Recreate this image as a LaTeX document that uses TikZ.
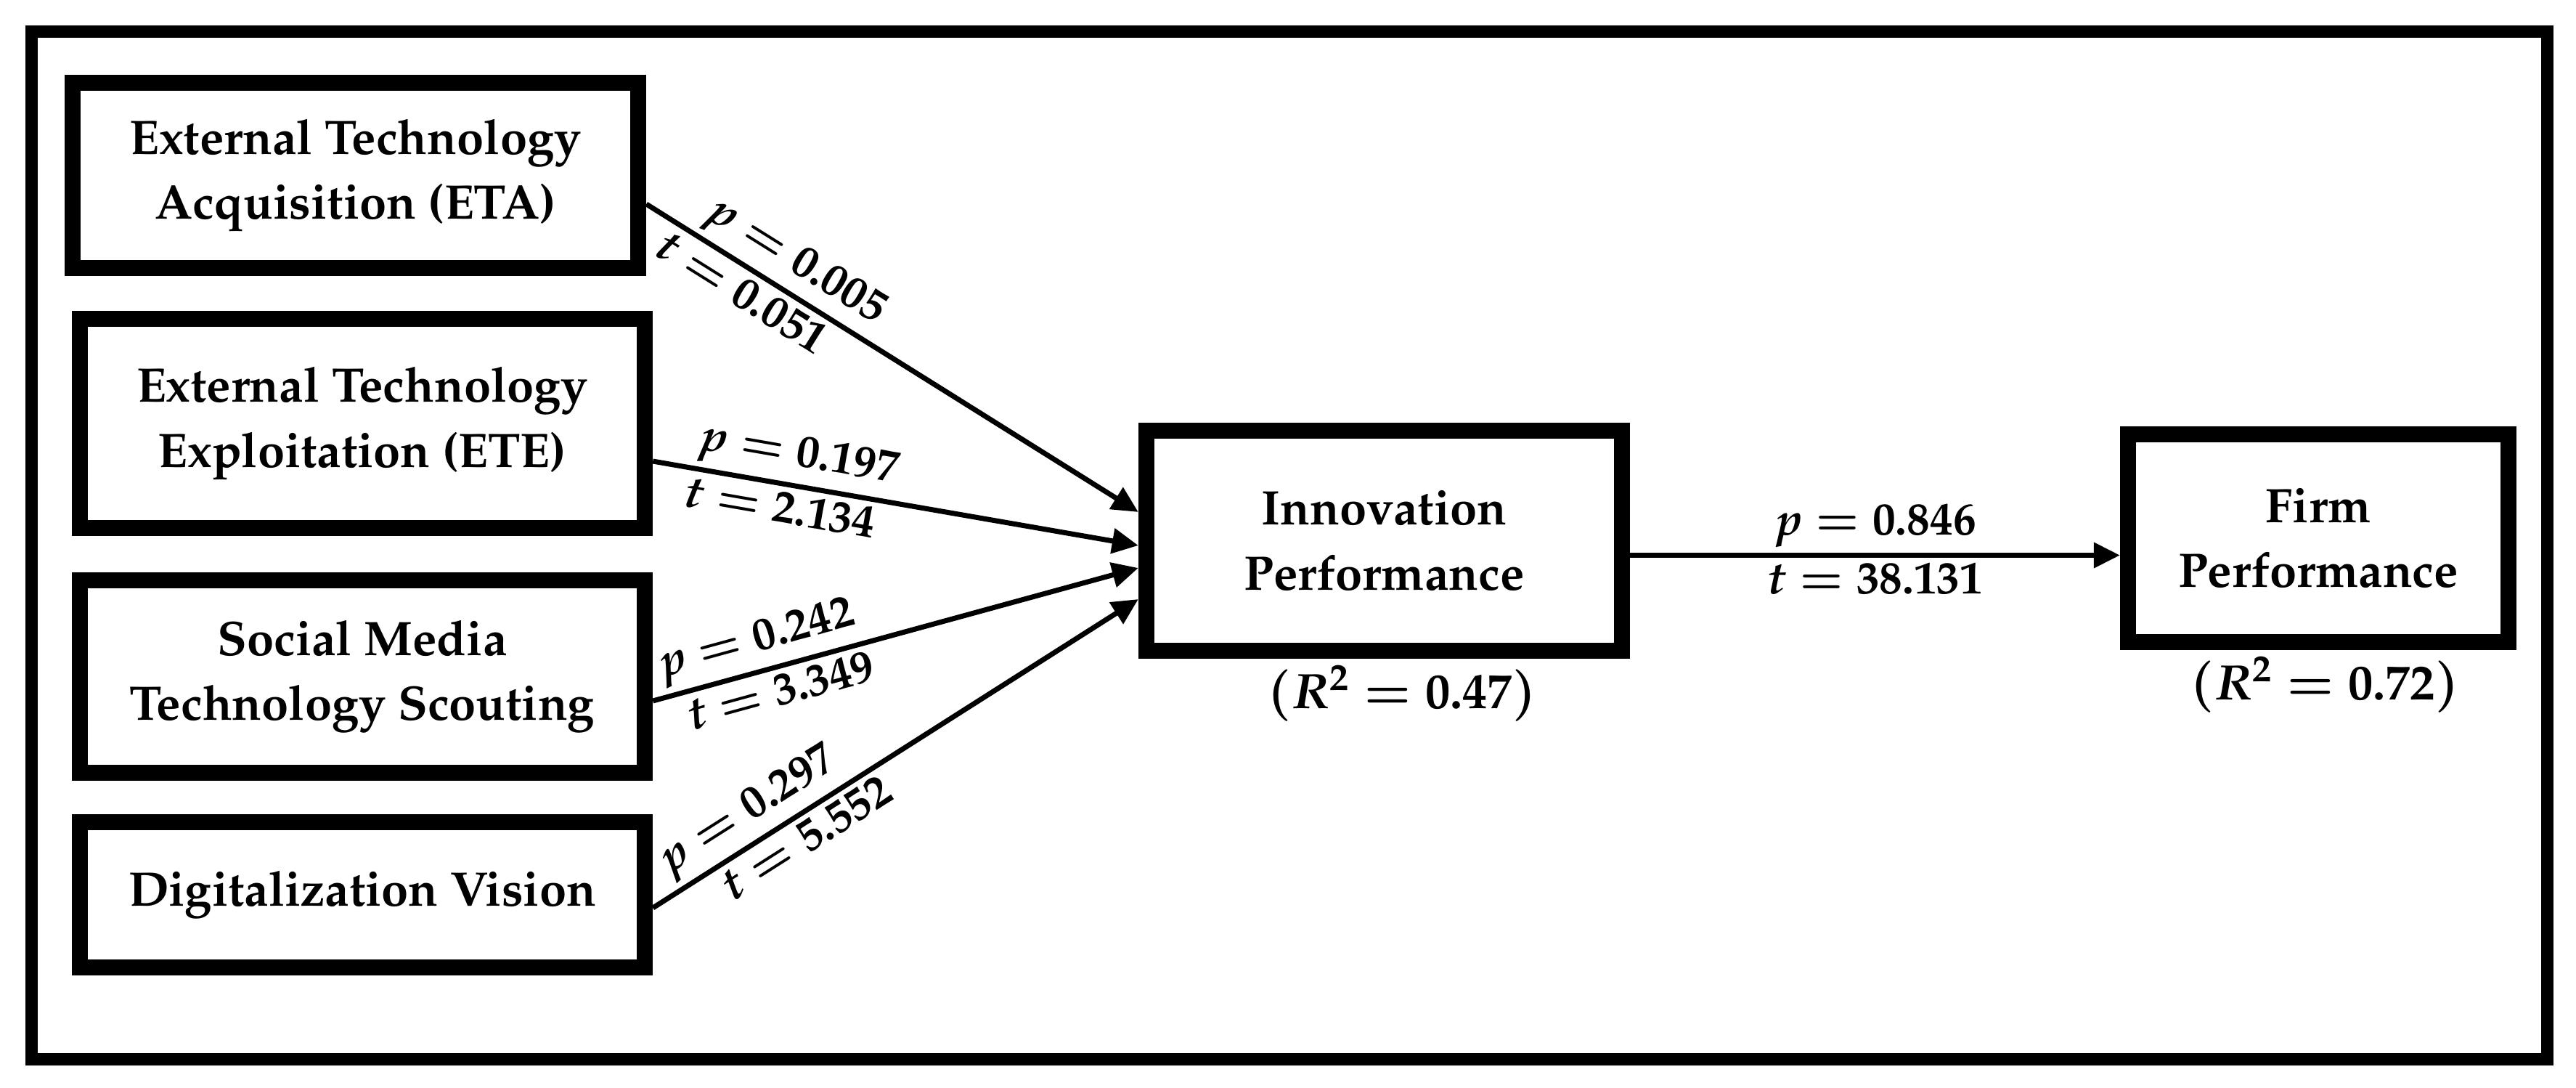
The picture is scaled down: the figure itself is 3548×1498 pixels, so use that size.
\documentclass[tikz,border=0pt]{standalone}
\usepackage[T1]{fontenc}
\usepackage{mathpazo}
\usetikzlibrary{arrows.meta}
\begin{document}
\begin{tikzpicture}[x=0.01cm, y=-0.01cm,
    box/.style={draw, rectangle, line width=0.22cm, fill=white, align=center, inner sep=0pt, font=\fontsize{19}{25.5}\selectfont\bfseries},
    link/.style={-{Triangle[length=0.36cm, width=0.34cm]}, line width=0.07cm},
    coef/.style={font=\fontsize{18}{22}\selectfont\boldmath, inner sep=2pt}]

    \useasboundingbox (0,0) rectangle (3548,1498);
    \draw[line width=0.17cm] (43.5,43.5) rectangle (3508.5,1458.5);

    \node[box, minimum width=7.79cm, minimum height=2.55cm] (eta) at (489.5,241.5) {External Technology\\Acquisition (ETA)};
    \node[box, minimum width=7.78cm, minimum height=2.88cm] (ete) at (499,583) {External Technology\\Exploitation (ETE)};
    \node[box, minimum width=7.78cm, minimum height=2.65cm] (smts) at (499,931.5) {Social Media\\Technology Scouting};
    \node[box, minimum width=7.78cm, minimum height=2.00cm] (dv) at (499,1232) {Digitalization Vision};
    \node[box, minimum width=6.55cm, minimum height=3.03cm] (ip) at (1906.5,744.5) {Innovation\\Performance};
    \node[box, minimum width=5.24cm, minimum height=2.86cm] (fp) at (3193,741) {Firm\\Performance};

    \node[coef, font=\fontsize{19.5}{22}\selectfont\boldmath] (ipr) at (1931,955) {$(R^2 = 0.47)$};
    \node[coef, font=\fontsize{19.5}{22}\selectfont\boldmath] (fpr) at (3202,943) {$(R^2 = 0.72)$};

    \draw[link] ([yshift=-0.395cm]eta.east) -- node[coef, sloped, above, pos=0.27] {$p = 0.005$} node[coef, sloped, below, pos=0.22] {$t = 0.051$} ([yshift=0.395cm]ip.west);
    \draw[link] ([yshift=-0.52cm]ete.east) -- node[coef, sloped, above, pos=0.29] {$p = 0.197$} node[coef, sloped, below, pos=0.27] {$t = 2.134$} ([yshift=-0.065cm]ip.west);
    \draw[link] ([yshift=-0.335cm]smts.east) -- node[coef, sloped, above, pos=0.23] {$p = 0.242$} node[coef, sloped, below, pos=0.25] {$t = 3.349$} ([yshift=-0.375cm]ip.west);
    \draw[link] ([yshift=-0.18cm]dv.east) -- node[coef, sloped, above, pos=0.23] {$p = 0.297$} node[coef, sloped, below, pos=0.29] {$t = 5.552$} ([yshift=-0.805cm]ip.west);
    \draw[link] ([yshift=-0.2cm]ip.east) -- node[coef, above] {$p = 0.846$} node[coef, below] {$t = 38.131$} ([yshift=-0.2cm]ip.east -| fp.west);
\end{tikzpicture}
\end{document}
